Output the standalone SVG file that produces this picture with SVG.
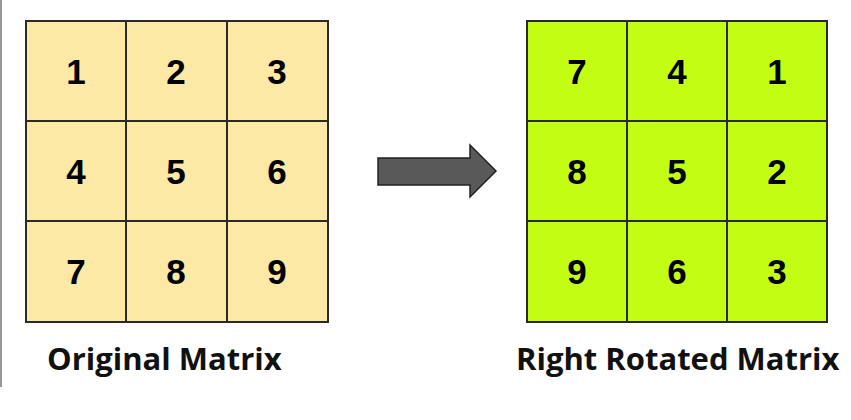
<svg xmlns="http://www.w3.org/2000/svg" width="851" height="420" viewBox="0 0 851 420">
<style>
.c{stroke:#2a2a2a;stroke-width:2}
.a{fill:#fbe9a5}.b{fill:#c3fd14}
.n{font-family:"Liberation Sans",Arial,sans-serif;font-size:35px;font-weight:bold;text-anchor:middle}
.l{font-family:"Open Sans",sans-serif;font-weight:bold;font-size:31px;fill:#111}
</style>
<rect width="851" height="420" fill="#fff"/>
<line x1="1" y1="0" x2="1" y2="387" stroke="#999" stroke-width="2"/>
<g id="original">
<rect class="a c" x="26" y="21" width="302" height="301"/>
<path class="c" d="M126 21V322M227 21V322M26 121H328M26 221H328" fill="none"/>
<g class="n">
<text x="76" y="84">1</text><text x="176" y="84">2</text><text x="277" y="84">3</text>
<text x="76" y="184">4</text><text x="176" y="184">5</text><text x="277" y="184">6</text>
<text x="76" y="284">7</text><text x="176" y="284">8</text><text x="277" y="284">9</text>
</g>
<text class="l" x="47" y="370">Original Matrix</text>
</g>
<g id="rotated">
<rect class="b c" x="527" y="21" width="300" height="301"/>
<path class="c" d="M627 21V322M727 21V322M527 121H827M527 221H827" fill="none"/>
<g class="n">
<text x="577" y="84">7</text><text x="677" y="84">4</text><text x="777" y="84">1</text>
<text x="577" y="184">8</text><text x="677" y="184">5</text><text x="777" y="184">2</text>
<text x="577" y="284">9</text><text x="677" y="284">6</text><text x="777" y="284">3</text>
</g>
<text class="l" x="516" y="370">Right Rotated Matrix</text>
</g>
<g id="connectors">
<path d="M378 158H470V145L496 171L470 197V185H378Z" fill="#595959" stroke="#222" stroke-width="1.5"/>
</g>
</svg>
